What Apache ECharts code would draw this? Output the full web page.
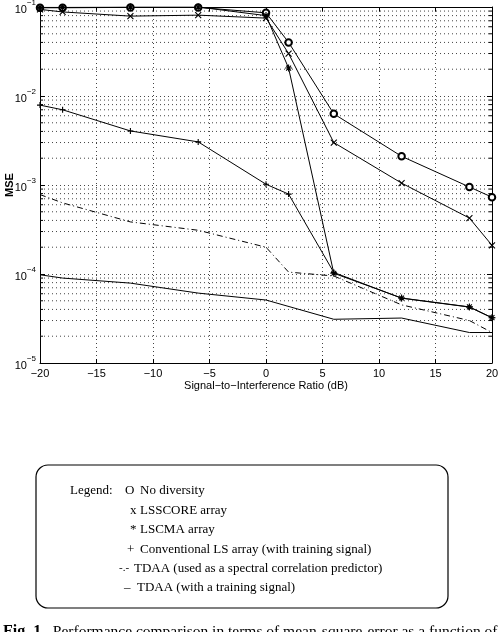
<!DOCTYPE html>
<html><head><meta charset="utf-8">
<script src="https://cdn.jsdelivr.net/npm/echarts@6/dist/echarts.min.js"></script>
<style>html,body{margin:0;padding:0;background:#fff}#c{width:500px;height:632px}</style>
</head><body><div id="c"></div>
<script>
// ---- data ----
const sirNoDiv = [-20,-18,-12,-6,0,2,6,12,18,20];
const mseNoDiv = [0.098,0.098,0.099,0.099,0.086,0.040,0.0063,0.0021,0.00095,0.00073];
const sirLsscore = [-20,-18,-12,-6,0,2,6,12,18,20];
const mseLsscore = [0.094,0.088,0.079,0.081,0.075,0.030,0.0030,0.00105,0.000425,0.00021];
const sirLscma = [-20,-18,-12,-6,0,2,6,12,18,20];
const mseLscma = [0.099,0.099,0.1,0.1,0.08,0.0206,0.000102,0.0000537,0.0000427,0.0000323];
const sirConvLs = [-20,-18,-12,-6,0,2,6,12,18,20];
const mseConvLs = [0.0079,0.0070,0.00405,0.00305,0.00102,0.00079,0.000104,0.0000535,0.0000425,0.0000322];
const sirTdaaSc = [-20,-18,-12,-6,0,2,6,12,18,20];
const mseTdaaSc = [0.00078,0.00063,0.000385,0.00031,0.0002,0.000105,0.000095,0.000045,0.00003,0.000022];
const sirTdaaTr = [-20,-18,-12,-6,0,6,12,18,20];
const mseTdaaTr = [0.000098,0.00009,0.000079,0.000061,0.000051,0.000031,0.000032,0.000022,0.000022];
const seriesNames = ['No diversity','LSSCORE array','LSCMA array','Conventional LS array (with training signal)','TDAA (used as a spectral correlation predictor)','TDAA (with a training signal)'];
const legendMarks = ['O','x','*','+','-.-','\u2013'];
const xTicks = {min:-20,max:20,step:5};
const yRange = {min:1e-5,max:1e-1};
const minorMult = [2,3,4,5,6,7,8,9];
const decades = [-5,-4,-3,-2];
const captionText = 'Performance comparison in terms of mean-square-error as a function of';

const pair = (xs, ys) => xs.map((x,i)=>[x, ys[i]]);
const minorVals = [];
decades.forEach(d => minorMult.forEach(m => minorVals.push([0, m*Math.pow(10,d)])));

const P_X = 'path://M0,0L10,10M10,0L0,10';
const P_STAR = 'path://M5,0L5,10M0,5L10,5M1.5,1.5L8.5,8.5M8.5,1.5L1.5,8.5';
const P_PLUS = 'path://M5,0L5,10M0,5L10,5';

const gridColor = '#444';
const lineBase = (name, data, symbol, size, dash) => ({
  name, type:'line', data, symbol, symbolSize:size, z:5,
  lineStyle:{color:'#000', width:1, type: dash || 'solid'},
  itemStyle: symbol==='emptyCircle' ? {color:'#000', borderColor:'#000', borderWidth:0.8}
                                   : {color:'rgba(0,0,0,0)', borderColor:'#000', borderWidth:1.1},
  emphasis:{disabled:true}, animation:false
});

const chart = echarts.init(document.getElementById('c'), null, {renderer:'canvas'});
const supFmt = v => {
  const e = Math.round(Math.log10(v));
  return '{b|10}{s|' + (e<0?'\u2212':'') + Math.abs(e) + '}';
};
const legendTop = 491, legendStep = 19.4;
const legendMarkX = [125,130,130,127,119,124];
const legendNameX = [140,140,140,140,134,137];
const legendMarkFont = ['13px','13px','13px','13px','11px','13px'];
const graphics = [
  {type:'rect', shape:{x:36,y:465,width:412,height:143,r:12}, style:{fill:'none',stroke:'#000',lineWidth:1.2}},
  {type:'text', x:70, y:legendTop, style:{text:'Legend:', font:'13px "Liberation Serif"', fill:'#000', verticalAlign:'middle'}}
];
seriesNames.forEach((n,i)=>{
  graphics.push({type:'text', x:legendMarkX[i], y:legendTop+i*legendStep, style:{text:legendMarks[i], font:legendMarkFont[i]+' "Liberation Serif"', fill:'#000', verticalAlign:'middle'}});
  graphics.push({type:'text', x:legendNameX[i], y:legendTop+i*legendStep, style:{text:n, font:'13px "Liberation Serif"', fill:'#000', verticalAlign:'middle'}});
});
graphics.push({type:'text', x:3, y:624, style:{text:'{f|Fig. 1}   ' + captionText, rich:{f:{font:'bold 16px "Liberation Serif"', fill:'#000'}}, font:'15.5px "Liberation Serif"', fill:'#000', verticalAlign:'top'}});

const axisLineStyle = {show:true, onZero:false, lineStyle:{color:'#000', width:1}};
chart.setOption({
  animation:false,
  backgroundColor:'#fff',
  grid:{left:40, right:8, top:7, bottom:269, containLabel:false, outerBoundsMode:'none'},
  xAxis:[{
    type:'value', min:xTicks.min, max:xTicks.max, interval:xTicks.step, position:'bottom',
    axisLine:axisLineStyle,
    axisTick:{show:true, inside:true, length:4, lineStyle:{color:'#000'}},
    axisLabel:{color:'#000', fontFamily:'Liberation Sans', fontSize:11, margin:5, formatter:v=>String(v).replace('-','\u2212')},
    splitLine:{show:true, lineStyle:{color:gridColor, type:[1,3], width:1}},
    name:'Signal\u2212to\u2212Interference Ratio (dB)', nameLocation:'middle', nameGap:17, nameMoveOverlap:false,
    nameTextStyle:{color:'#000', fontFamily:'Liberation Sans', fontSize:11}
  },{
    type:'value', min:xTicks.min, max:xTicks.max, interval:xTicks.step, position:'top',
    axisLine:axisLineStyle,
    axisTick:{show:true, inside:true, length:4, lineStyle:{color:'#000'}},
    axisLabel:{show:false}, splitLine:{show:false}
  }],
  yAxis:[{
    type:'log', logBase:10, min:yRange.min, max:yRange.max, position:'left',
    axisLine:axisLineStyle,
    axisTick:{show:true, inside:true, length:5, lineStyle:{color:'#000'}},
    axisLabel:{formatter:supFmt, margin:4, rich:{
      b:{fontFamily:'Liberation Sans', fontSize:11, color:'#000', verticalAlign:'bottom', lineHeight:16},
      s:{fontFamily:'Liberation Sans', fontSize:8, color:'#000', verticalAlign:'top', lineHeight:9}
    }},
    splitLine:{show:true, lineStyle:{color:gridColor, type:[1,3], width:1}},
    name:'MSE', nameLocation:'middle', nameGap:25, nameMoveOverlap:false,
    nameTextStyle:{color:'#000', fontFamily:'Liberation Sans', fontSize:11, fontWeight:'bold'}
  },{
    type:'log', logBase:10, min:yRange.min, max:yRange.max, position:'right',
    axisLine:axisLineStyle,
    axisTick:{show:true, inside:true, length:5, lineStyle:{color:'#000'}},
    axisLabel:{show:false}, splitLine:{show:false}
  }],
  graphic:graphics,
  series:[
    {type:'custom', name:'minorgrid', data:minorVals, silent:true, z:1, animation:false,
     renderItem:(params, api)=>{
       const v = api.value(1);
       const p0 = api.coord([xTicks.min, v]);
       const p1 = api.coord([xTicks.max, v]);
       return {type:'group', children:[
         {type:'line', shape:{x1:p0[0], y1:p0[1], x2:p1[0], y2:p1[1]}, style:{stroke:gridColor, lineWidth:1, lineDash:[1,3]}},
         {type:'line', shape:{x1:p0[0], y1:p0[1], x2:p0[0]+3, y2:p0[1]}, style:{stroke:'#000', lineWidth:1}},
         {type:'line', shape:{x1:p1[0]-3, y1:p1[1], x2:p1[0], y2:p1[1]}, style:{stroke:'#000', lineWidth:1}}
       ]};
     }},
    lineBase(seriesNames[0], pair(sirNoDiv, mseNoDiv), 'emptyCircle', 6.5),
    lineBase(seriesNames[1], pair(sirLsscore, mseLsscore), P_X, 6),
    lineBase(seriesNames[2], pair(sirLscma, mseLscma), P_STAR, 7),
    lineBase(seriesNames[3], pair(sirConvLs, mseConvLs), P_PLUS, 6),
    lineBase(seriesNames[4], pair(sirTdaaSc, mseTdaaSc), 'none', 0, [6,3,1,3]),
    lineBase(seriesNames[5], pair(sirTdaaTr, mseTdaaTr), 'none', 0)
  ]
});
</script></body></html>
